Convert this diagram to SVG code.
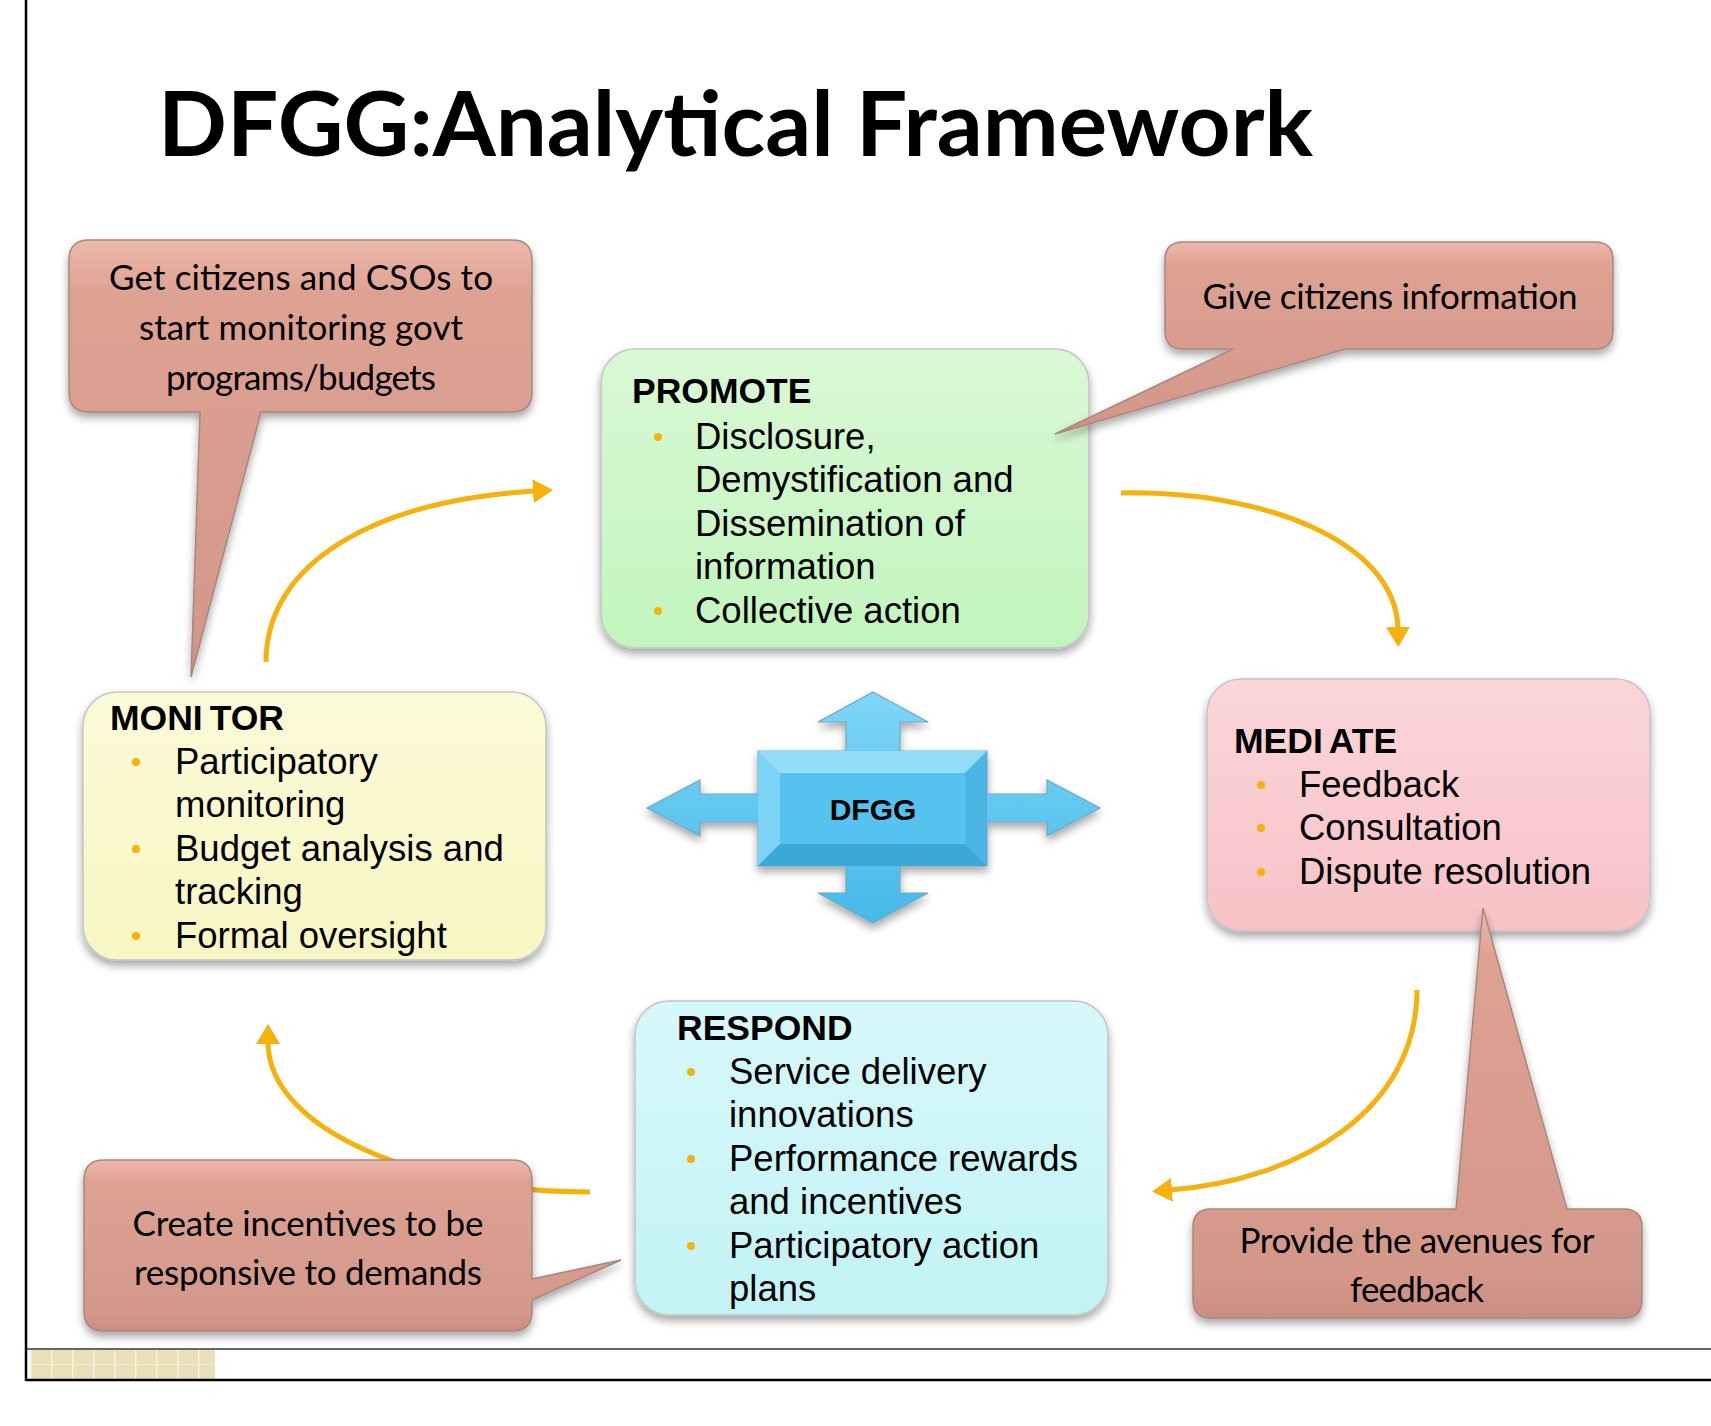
<svg xmlns="http://www.w3.org/2000/svg" width="1711" height="1426" viewBox="0 0 1711 1426">
<defs>
  <filter id="sh" x="-10%" y="-10%" width="120%" height="130%">
    <feDropShadow dx="0" dy="5" stdDeviation="4" flood-color="#000" flood-opacity="0.35"/>
  </filter>
  <linearGradient id="gc" x1="0" y1="0" x2="0" y2="1">
    <stop offset="0" stop-color="#EDB8AB"/>
    <stop offset="0.12" stop-color="#DEA293"/>
    <stop offset="0.9" stop-color="#D4988B"/>
    <stop offset="1" stop-color="#C98D81"/>
  </linearGradient>
  <linearGradient id="gGreen" x1="0" y1="0" x2="0" y2="1">
    <stop offset="0" stop-color="#D9F8D5"/>
    <stop offset="1" stop-color="#C2F5BD"/>
  </linearGradient>
  <linearGradient id="gYellow" x1="0" y1="0" x2="0" y2="1">
    <stop offset="0" stop-color="#FBFAD8"/>
    <stop offset="1" stop-color="#F8F6C3"/>
  </linearGradient>
  <linearGradient id="gPink" x1="0" y1="0" x2="0" y2="1">
    <stop offset="0" stop-color="#FBD6D9"/>
    <stop offset="1" stop-color="#F7C2C6"/>
  </linearGradient>
  <linearGradient id="gCyan" x1="0" y1="0" x2="0" y2="1">
    <stop offset="0" stop-color="#D7F8FA"/>
    <stop offset="1" stop-color="#C2F3F5"/>
  </linearGradient>
  <linearGradient id="gBlue" x1="0" y1="0" x2="0" y2="1">
    <stop offset="0" stop-color="#7FD6F7"/>
    <stop offset="1" stop-color="#45B9EA"/>
  </linearGradient>
  <pattern id="tile" width="21" height="31" patternUnits="userSpaceOnUse" x="30" y="1349">
    <rect width="21" height="31" fill="#EADFB8"/>
    <rect x="0" width="1.5" height="31" fill="#F8F2DF"/>
    <rect y="15" width="21" height="1" fill="#F3ECD3"/>
  </pattern>
  <marker id="ah" markerUnits="userSpaceOnUse" markerWidth="20" markerHeight="24" viewBox="0 0 20 24" refX="2" refY="12" orient="auto">
    <path d="M0,0 L20,12 L0,24 Z" fill="#F6B10C"/>
  </marker>
</defs>
<style>
  .node{stroke:#C4C4C4;stroke-width:1.5;filter:url(#sh)}
  .hdr{font-family:"Liberation Sans",Arial,sans-serif;font-weight:bold;font-size:35.5px;fill:#000}
  .body{font-family:"Liberation Sans",Arial,sans-serif;font-size:36.5px;fill:#000}
  .bul{fill:#F6B10C}
  .call{fill:url(#gc);stroke:#A8877F;stroke-width:1.5;filter:url(#sh)}
  .ct{font-family:Lato,"Open Sans",sans-serif;font-size:35px;fill:#000;text-anchor:middle}
  .arr{fill:none;stroke:#F6B10C;stroke-width:5;marker-end:url(#ah)}
  .title{font-family:Lato,"Liberation Sans",sans-serif;font-weight:bold;font-size:90px;fill:#000}
</style>

<rect width="1711" height="1426" fill="#FFFFFF"/>

<!-- frame -->
<g id="frame">
  <line x1="26" y1="0" x2="26" y2="1381" stroke="#000" stroke-width="2.5"/>
  <rect x="30" y="1350" width="185" height="30" fill="url(#tile)"/>
  <line x1="26" y1="1349" x2="1711" y2="1349" stroke="#333" stroke-width="1.5"/>
  <line x1="26" y1="1380" x2="1711" y2="1380" stroke="#000" stroke-width="2.5"/>
</g>

<text id="title" class="title" x="158" y="156" textLength="1155" lengthAdjust="spacingAndGlyphs">DFGG:Analytical Framework</text>

<!-- connectors -->
<g id="connectors">
  <path class="arr" d="M266,662 C266,560 380,500 535,491"/>
  <path class="arr" d="M1121,493 C1260,490 1396,540 1398,629"/>
  <path class="arr" d="M1417,990 C1417,1110 1300,1180 1170,1190"/>
  <path class="arr" d="M590,1192 C420,1192 268,1130 268,1042"/>
</g>

<!-- nodes -->
<g id="promote">
  <rect class="node" x="601" y="349" width="488" height="299" rx="34" fill="url(#gGreen)"/>
  <text class="hdr" x="632" y="403">PROMOTE</text>
  <circle class="bul" cx="658" cy="437" r="4"/>
  <circle class="bul" cx="658" cy="611" r="4"/>
  <text class="body" x="695" y="448.5">Disclosure,</text>
  <text class="body" x="695" y="492">Demystification and</text>
  <text class="body" x="695" y="535.5">Dissemination of</text>
  <text class="body" x="695" y="579">information</text>
  <text class="body" x="695" y="622.5">Collective action</text>
</g>

<g id="monitor">
  <rect class="node" x="83" y="692" width="463" height="268" rx="34" fill="url(#gYellow)"/>
  <text class="hdr" x="110" y="730">MONI<tspan dx="7">TOR</tspan></text>
  <circle class="bul" cx="136" cy="762" r="4"/>
  <circle class="bul" cx="136" cy="849" r="4"/>
  <circle class="bul" cx="136" cy="936" r="4"/>
  <text class="body" x="175" y="773.5">Participatory</text>
  <text class="body" x="175" y="817">monitoring</text>
  <text class="body" x="175" y="860.5">Budget analysis and</text>
  <text class="body" x="175" y="904">tracking</text>
  <text class="body" x="175" y="947.5">Formal oversight</text>
</g>

<g id="mediate">
  <rect class="node" x="1207" y="679" width="443" height="252" rx="34" fill="url(#gPink)"/>
  <text class="hdr" x="1234" y="753">MEDI<tspan dx="6">ATE</tspan></text>
  <circle class="bul" cx="1261" cy="785" r="4"/>
  <circle class="bul" cx="1261" cy="828" r="4"/>
  <circle class="bul" cx="1261" cy="872" r="4"/>
  <text class="body" x="1299" y="796.5">Feedback</text>
  <text class="body" x="1299" y="840">Consultation</text>
  <text class="body" x="1299" y="883.5">Dispute resolution</text>
</g>

<g id="respond">
  <rect class="node" x="635" y="1001" width="473" height="314" rx="34" fill="url(#gCyan)"/>
  <text class="hdr" x="677" y="1040">RESPOND</text>
  <circle class="bul" cx="691" cy="1072" r="4"/>
  <circle class="bul" cx="691" cy="1159" r="4"/>
  <circle class="bul" cx="691" cy="1246" r="4"/>
  <text class="body" x="729" y="1083.5">Service delivery</text>
  <text class="body" x="729" y="1127">innovations</text>
  <text class="body" x="729" y="1170.5">Performance rewards</text>
  <text class="body" x="729" y="1214">and incentives</text>
  <text class="body" x="729" y="1257.5">Participatory action</text>
  <text class="body" x="729" y="1301">plans</text>
</g>

<g id="dfgg">
  <polygon points="873,692 928,722 900,722 900,751 987,751 987,794 1047,794 1047,780 1100,808 1047,836 1047,822 987,822 987,866 900,866 900,893 928,893 873,923 818,893 846,893 846,866 758,866 758,822 700,822 700,836 647,808 700,780 700,794 758,794 758,751 846,751 846,722 818,722" fill="url(#gBlue)" stroke="#6FA9BF" stroke-width="1.2" filter="url(#sh)"/>
  <polygon points="758,751 987,751 965,773 780,773" fill="#93DDF8"/>
  <polygon points="758,751 780,773 780,844 758,866" fill="#7BD3F5"/>
  <polygon points="758,866 780,844 965,844 987,866" fill="#3AA8D9"/>
  <polygon points="987,751 987,866 965,844 965,773" fill="#4AB5E4"/>
  <rect x="780" y="773" width="185" height="71" fill="#55C2EF"/>
  <text x="873" y="820" text-anchor="middle" font-family="Liberation Sans, Arial, sans-serif" font-weight="bold" font-size="30" fill="#000">DFGG</text>
</g>

<!-- callouts -->
<g id="callout-monitor">
  <path class="call" d="M89,240 H512 Q532,240 532,260 V392 Q532,412 512,412 H261 L191,677 L200,412 H89 Q69,412 69,392 V260 Q69,240 89,240 Z"/>
  <text class="ct" x="301" y="290" textLength="384">Get citizens and CSOs to</text>
  <text class="ct" x="301" y="340" textLength="324">start monitoring govt</text>
  <text class="ct" x="301" y="390" textLength="270">programs/budgets</text>
</g>

<g id="callout-promote">
  <path class="call" d="M1183,242 H1595 Q1613,242 1613,260 V331 Q1613,349 1595,349 H1345 L1055,434 L1233,349 H1183 Q1165,349 1165,331 V260 Q1165,242 1183,242 Z"/>
  <text class="ct" x="1390" y="309" textLength="375">Give citizens information</text>
</g>

<g id="callout-respond">
  <path class="call" d="M104,1160 H512 Q532,1160 532,1180 V1279 L621,1260 L532,1300 V1311 Q532,1331 512,1331 H104 Q84,1331 84,1311 V1180 Q84,1160 104,1160 Z"/>
  <text class="ct" x="308" y="1236" textLength="351">Create incentives to be</text>
  <text class="ct" x="308" y="1285" textLength="348">responsive to demands</text>
</g>

<g id="callout-mediate">
  <path class="call" d="M1211,1209 H1456 L1483,908 L1567,1209 H1624 Q1642,1209 1642,1227 V1300 Q1642,1318 1624,1318 H1211 Q1193,1318 1193,1300 V1227 Q1193,1209 1211,1209 Z"/>
  <text class="ct" x="1417" y="1253" textLength="355">Provide the avenues for</text>
  <text class="ct" x="1417" y="1302" textLength="134">feedback</text>
</g>
</svg>
